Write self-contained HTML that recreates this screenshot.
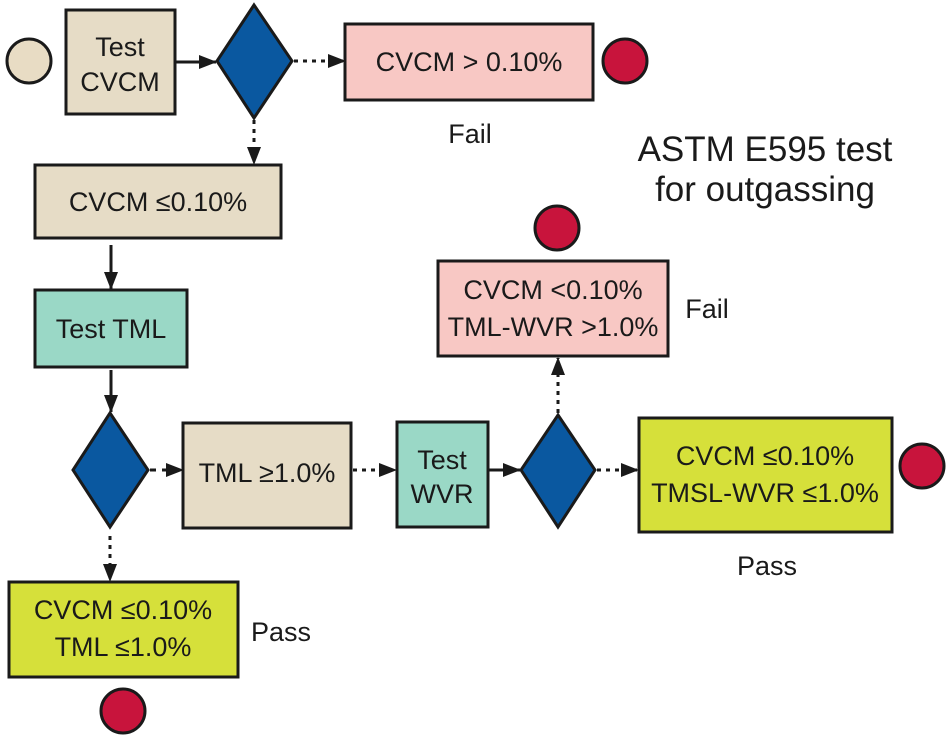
<!DOCTYPE html>
<html><head><meta charset="utf-8"><style>
html,body{margin:0;padding:0;background:#fff;width:950px;height:739px;overflow:hidden}
svg text{font-family:"Liberation Sans",sans-serif;fill:#1a1a1a}
</style></head><body>
<svg width="950" height="739" viewBox="0 0 950 739" xmlns="http://www.w3.org/2000/svg">
<defs>
<marker id="b" markerWidth="18" markerHeight="14" refX="17" refY="7" orient="auto" markerUnits="userSpaceOnUse" viewBox="0 0 18 14">
<path d="M0,0 L18,7 L0,14 z" fill="#1a1a1a"/></marker>
</defs>
<g stroke="#1a1a1a" stroke-width="3">
<circle cx="29" cy="61" r="22" fill="#e8dcc4"/>
<rect x="66" y="10" width="109" height="104" fill="#e6dcc6"/>
<polygon points="254,5 292,61 254,118 217,61" fill="#0a58a0"/>
<rect x="345" y="24" width="248" height="76" fill="#f8c8c4"/>
<circle cx="625" cy="61" r="22" fill="#c8143c"/>
<rect x="35" y="165" width="246" height="73" fill="#e6dcc6"/>
<rect x="35" y="290" width="152" height="77" fill="#9ad8c6"/>
<polygon points="110,413 148,470 110,527 73,470" fill="#0a58a0"/>
<rect x="183" y="423" width="168" height="105" fill="#e6dcc6"/>
<rect x="397" y="422" width="91" height="105" fill="#9ad8c6"/>
<polygon points="558,415 595,470 558,527 521,470" fill="#0a58a0"/>
<rect x="438" y="261" width="230" height="95" fill="#f8c8c4"/>
<circle cx="557" cy="228" r="22" fill="#c8143c"/>
<rect x="639" y="418" width="253" height="114" fill="#d6e03a"/>
<circle cx="922" cy="466" r="22" fill="#c8143c"/>
<rect x="9" y="582" width="229" height="95" fill="#d6e03a"/>
<circle cx="123" cy="711" r="22" fill="#c8143c"/>
</g>
<g stroke="#1a1a1a" stroke-width="3" fill="none">
<line x1="175" y1="62" x2="216" y2="62" marker-end="url(#b)"/>
<line x1="294" y1="61" x2="345" y2="61" stroke-dasharray="4,5" marker-end="url(#b)"/>
<line x1="254" y1="120" x2="254" y2="164" stroke-dasharray="4,5" marker-end="url(#b)"/>
<line x1="111" y1="245" x2="111" y2="289" marker-end="url(#b)"/>
<line x1="111" y1="370" x2="111" y2="412" marker-end="url(#b)"/>
<line x1="150" y1="470" x2="183" y2="470" stroke-dasharray="6,6" marker-end="url(#b)"/>
<line x1="353" y1="470" x2="396" y2="470" stroke-dasharray="4,5" marker-end="url(#b)"/>
<line x1="488" y1="470" x2="520" y2="470" marker-end="url(#b)"/>
<line x1="597" y1="470" x2="638" y2="470" stroke-dasharray="4,5" marker-end="url(#b)"/>
<line x1="558" y1="413" x2="558" y2="358" stroke-dasharray="4,5" marker-end="url(#b)"/>
<line x1="110" y1="536" x2="110" y2="581" stroke-dasharray="4,5" marker-end="url(#b)"/>
</g>
<g font-size="27" text-anchor="middle">
<text x="120" y="56">Test</text><text x="120" y="91">CVCM</text>
<text x="469" y="71">CVCM &gt; 0.10%</text>
<text x="470" y="143">Fail</text>
<text x="158" y="211">CVCM ≤0.10%</text>
<text x="111" y="338">Test TML</text>
<text x="267" y="482">TML ≥1.0%</text>
<text x="442" y="469">Test</text><text x="442" y="503">WVR</text>
<text x="553" y="299">CVCM &lt;0.10%</text>
<text x="553" y="336">TML-WVR &gt;1.0%</text>
<text x="707" y="318">Fail</text>
<text x="765" y="465">CVCM ≤0.10%</text>
<text x="765" y="502">TMSL-WVR ≤1.0%</text>
<text x="767" y="575">Pass</text>
<text x="123" y="619">CVCM ≤0.10%</text>
<text x="123" y="656">TML ≤1.0%</text>
<text x="281" y="641">Pass</text>
<text x="765" y="161" font-size="35">ASTM E595 test</text>
<text x="765" y="201" font-size="35">for outgassing</text>
</g>
</svg>
</body></html>
